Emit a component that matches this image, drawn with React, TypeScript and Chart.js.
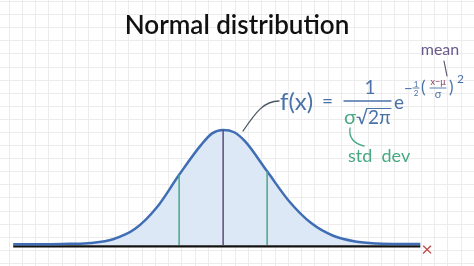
import React, { useEffect, useRef } from "react";
import { Chart, registerables } from "chart.js";

Chart.register(...registerables);

// z-scores (in standard deviations from the mean) and relative curve height (peak = 1)
const zValues = [-4.77, -4, -3.5, -3, -2.5, -2, -1.5, -1, -0.5, -0.25, 0, 0.25, 0.5, 1, 1.5, 2, 2.5, 3, 3.5, 4, 4.48];
const heights = [0.006, 0.006, 0.01, 0.018, 0.05, 0.14, 0.33, 0.61, 0.87, 0.97, 1.0, 0.98, 0.9, 0.64, 0.38, 0.19, 0.08, 0.03, 0.012, 0.008, 0.008];

// axis baseline extent
const axisStart = -4.77;
const axisEnd = 4.48;

// marker lines: mean and ±1 standard deviation
const meanLine = { z: 0, top: 1.0 };
const sdLines = [
  { z: -1, top: 0.61 },
  { z: 1, top: 0.64 },
];

const titleText = "Normal distribution";
const meanLabel = "mean";
const sdLabel = "std  dev";
const axisLabel = "×";

const BLUE = "#3f6eb4";
const TEXT_BLUE = "#4a72a8";
const GREEN = "#47a883";
const PURPLE = "#6a5a8c";

const gridAndText = {
  id: "sketch",
  beforeDraw(chart: any) {
    const ctx = chart.ctx as CanvasRenderingContext2D;
    const w = chart.width;
    const h = chart.height;
    ctx.save();
    ctx.fillStyle = "#ffffff";
    ctx.fillRect(0, 0, w, h);
    ctx.strokeStyle = "#ececec";
    ctx.lineWidth = 1;
    for (let x = 8.5; x < w; x += 13.3) {
      ctx.beginPath();
      ctx.moveTo(Math.round(x) + 0.5, 0);
      ctx.lineTo(Math.round(x) + 0.5, h);
      ctx.stroke();
    }
    for (let y = 1; y < h; y += 13.1) {
      ctx.beginPath();
      ctx.moveTo(0, Math.round(y) + 0.5);
      ctx.lineTo(w, Math.round(y) + 0.5);
      ctx.stroke();
    }
    ctx.restore();
  },
  afterDraw(chart: any) {
    const ctx = chart.ctx as CanvasRenderingContext2D;
    const F = "Lato, 'Noto Sans', sans-serif";
    const t = (s: string, x: number, y: number, size: number, color: string, align: CanvasTextAlign = "left", weight = "normal") => {
      ctx.font = `${weight} ${size}px ${F}`;
      ctx.fillStyle = color;
      ctx.textAlign = align;
      ctx.textBaseline = "middle";
      ctx.fillText(s, x, y);
    };
    const line = (x1: number, y1: number, x2: number, y2: number, color: string, lw = 1.5) => {
      ctx.strokeStyle = color;
      ctx.lineWidth = lw;
      ctx.beginPath();
      ctx.moveTo(x1, y1);
      ctx.lineTo(x2, y2);
      ctx.stroke();
    };
    ctx.save();
    ctx.lineCap = "round";
    // title
    t(titleText, 237, 26, 26, "#111111", "center", "600");
    // f(x) =
    t("f(x)", 280, 102, 24, TEXT_BLUE);
    t("=", 322, 102, 19, TEXT_BLUE);
    // fraction
    t("1", 370, 88, 19, TEXT_BLUE, "center");
    line(344, 101, 391, 101, TEXT_BLUE, 1.3);
    t("σ", 344, 118, 20, GREEN);
    t("√2π", 356, 118, 19, TEXT_BLUE);
    line(367, 108.5, 391, 108.5, TEXT_BLUE, 1.2);
    // exponent
    t("e", 394, 103, 19, TEXT_BLUE);
    t("−", 404, 89, 15, TEXT_BLUE);
    t("1", 416, 84, 8, TEXT_BLUE, "center");
    line(413, 88, 419, 88, TEXT_BLUE, 0.9);
    t("2", 416, 93, 8, TEXT_BLUE, "center");
    t("(", 421, 88, 17, TEXT_BLUE);
    t("x−μ", 438, 82, 9, "#8a3e6a", "center");
    line(430, 88, 446, 88, TEXT_BLUE, 0.9);
    t("σ", 438, 94, 11, TEXT_BLUE, "center");
    t(")", 449, 88, 17, TEXT_BLUE);
    t("2", 457, 79, 12, TEXT_BLUE);
    // mean label
    t(meanLabel, 440, 50, 16, PURPLE, "center");
    line(444, 61, 447, 76, "#5a5a6e", 1.2);
    // std dev label
    t(sdLabel, 348, 156, 18, GREEN);
    ctx.strokeStyle = GREEN;
    ctx.lineWidth = 1.3;
    ctx.beginPath();
    ctx.moveTo(350, 128);
    ctx.quadraticCurveTo(348, 142, 364, 146);
    ctx.stroke();
    // connector to curve
    ctx.strokeStyle = "#4b5563";
    ctx.lineWidth = 1.3;
    ctx.beginPath();
    ctx.moveTo(243, 131);
    ctx.bezierCurveTo(256, 112, 264, 101, 279, 101);
    ctx.stroke();
    // x axis label
    t(axisLabel, 427, 250, 20, "#c0504d", "center");
    ctx.restore();
  },
};

export default function App() {
  const ref = useRef<HTMLCanvasElement>(null);
  useEffect(() => {
    if (!ref.current) return;
    const curve = zValues.map((z, i) => ({ x: z, y: heights[i] }));
    const chart = new Chart(ref.current, {
      type: "line",
      data: {
        datasets: [
          {
            data: curve,
            borderColor: BLUE,
            borderWidth: 2.5,
            backgroundColor: "#dde8f6",
            fill: "origin",
            pointRadius: 0,
            cubicInterpolationMode: "monotone",
            order: 2,
          } as any,
          {
            data: [
              { x: meanLine.z, y: 0 },
              { x: meanLine.z, y: meanLine.top },
            ],
            borderColor: "#5b4d78",
            borderWidth: 1.5,
            pointRadius: 0,
            fill: false,
            order: 0,
          },
          ...sdLines.map((s) => ({
            data: [
              { x: s.z, y: 0 },
              { x: s.z, y: s.top },
            ],
            borderColor: GREEN,
            borderWidth: 1.5,
            pointRadius: 0,
            fill: false,
            order: 0,
          })),
          {
            data: [
              { x: axisStart, y: -0.012 },
              { x: axisEnd, y: -0.012 },
            ],
            borderColor: "#111111",
            borderWidth: 2.2,
            pointRadius: 0,
            fill: false,
            order: 3,
          },
        ],
      },
      options: {
        responsive: false,
        animation: false,
        layout: { padding: 0 },
        plugins: { legend: { display: false }, tooltip: { enabled: false }, title: { display: false } },
        scales: {
          x: { type: "linear", display: false, min: -5.07, max: 5.7 },
          y: { type: "linear", display: false, min: -0.183, max: 2.13 },
        },
      },
      plugins: [gridAndText],
    });
    return () => chart.destroy();
  }, []);
  return (
    <div style={{ position: "fixed", left: 0, top: 0, width: 474, height: 266 }}>
      <canvas ref={ref} width={474} height={266} style={{ display: "block" }} />
    </div>
  );
}
